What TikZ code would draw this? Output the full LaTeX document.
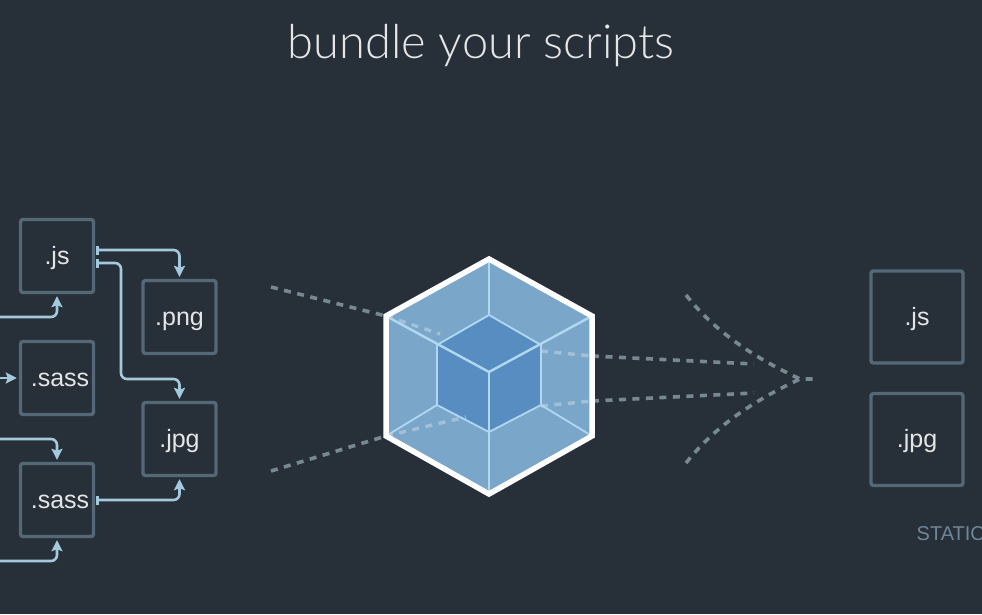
\documentclass[tikz,border=0pt]{standalone}
\usepackage{fontspec}
\setmainfont{Liberation Sans}
\newfontfamily\titlefont{Lato Light}
\usepackage{xcolor}
\definecolor{slidebg}{RGB}{39,48,57}
\definecolor{boxline}{RGB}{84,104,120}
\definecolor{linkblue}{RGB}{165,201,220}
\definecolor{dashgrey}{RGB}{120,136,146}
\definecolor{hexouter}{RGB}{122,167,201}
\definecolor{hexinner}{RGB}{88,141,193}
\definecolor{hexedge}{RGB}{176,216,243}
\definecolor{statictext}{RGB}{112,134,152}
\usetikzlibrary{arrows.meta}
\tikzset{
    common/.style={draw=boxline, rectangle, rounded corners=2.5pt, text=white!90!black, font=\fontsize{25}{25}\selectfont, text height=16.5pt, text depth=0.5pt},
    filebox/.style={common, line width=3.4pt, minimum size=73pt},
    outbox/.style={common, line width=3.4pt, minimum size=92pt},
    link/.style={draw=linkblue, line width=2.6pt, rounded corners=6pt, -{Stealth[length=11pt,width=11pt,inset=2pt]}},
    linkout/.style={link, {Bar[width=9pt,length=3pt]}-{Stealth[length=11pt,width=11pt,inset=2pt]}},
    flow/.style={draw=dashgrey, line width=3.6pt, dash pattern=on 7pt off 6.5pt},
    flowin/.style={draw=white, opacity=0.3, line width=3.4pt, dash pattern=on 7pt off 6.5pt},
    spoke/.style={draw=hexedge, line width=2.4pt}
}
\begin{document}
\begin{tikzpicture}[x=1pt,y=-1pt]
  \clip (0,0) rectangle (982,614);
  \fill[slidebg] (0,0) rectangle (982,614);

  \node[font=\titlefont\fontsize{47}{47}\selectfont, text=white!90!black] (title) at (481,46) {bundle your scripts};

  % files on the left
  \node[filebox] (js) at (57,256) {.js};
  \node[filebox] (png) at (179.5,317) {.png};
  \node[filebox] (sass-a) at (57,378) {\hspace*{6pt}.sass};
  \node[filebox] (jpg) at (179.5,439) {.jpg};
  \node[filebox] (sass-b) at (57,500) {\hspace*{6pt}.sass};

  \coordinate (in-js) at (-5,317);
  \coordinate (in-sass-a) at (-5,378);
  \coordinate (in-sass-b) at (-5,439);
  \coordinate (in-sass-c) at (-5,561);

  \draw[link] (in-js) -| ([yshift=-2pt]js.south);
  \draw[link] (in-sass-a) -- ([xshift=-2pt]sass-a.west);
  \draw[link] (in-sass-b) -| ([yshift=2pt]sass-b.north);
  \draw[link] (in-sass-c) -| ([yshift=-2pt]sass-b.south);
  \draw[linkout] ([xshift=1pt,yshift=6pt]js.east) -| ([yshift=2pt]png.north);
  \draw[linkout] ([xshift=1pt,yshift=-7pt]js.east) -| (121,379) -| ([yshift=2pt]jpg.north);
  \draw[linkout] ([xshift=1pt]sass-b.east) -| ([yshift=-2pt]jpg.south);

  % hexagon corners
  \coordinate (top) at (489,259);
  \coordinate (ur) at (592,316);
  \coordinate (lr) at (592,436);
  \coordinate (bot) at (489,494);
  \coordinate (ll) at (386,436);
  \coordinate (ul) at (386,316);
  \coordinate (c-top) at (489,315);
  \coordinate (c-ur) at (541,345);
  \coordinate (c-lr) at (541,405);
  \coordinate (c-bot) at (489,432);
  \coordinate (c-ll) at (437,405);
  \coordinate (c-ul) at (437,345);
  \coordinate (c-mid) at (489,372);
  \coordinate (tip) at (800,379);
  \coordinate (tip-end) at (816,379);

  % dashes going into and out of the hexagon
  \coordinate (up-start) at (271,287);
  \coordinate (low-start) at (271,471);
  \coordinate (curve-up) at (686,295);
  \coordinate (curve-low) at (686,463);
  \coordinate (flat-up) at (754,364);
  \coordinate (flat-low) at (754,393);
  \draw[flow] (up-start) -- (ul);
  \draw[flow] (low-start) -- (ll);
  \draw[flow] (592,356) -- (flat-up);
  \draw[flow] (592,401) -- (flat-low);
  \draw[flow] (curve-up) .. controls (715,332) and (755,358) .. (tip) -- (tip-end);
  \draw[flow] (curve-low) .. controls (715,426) and (755,400) .. (tip);

  \fill[hexouter] (top) -- (ur) -- (lr) -- (bot) -- (ll) -- (ul) -- cycle;
  \fill[hexinner] (c-top) -- (c-ur) -- (c-lr) -- (c-bot) -- (c-ll) -- (c-ul) -- cycle;

  \draw[flowin] (ul) -- (440,334);
  \draw[flowin] (ll) -- (466,417);
  \draw[flowin] (541,351) -- (592,356);
  \draw[flowin] (541,406) -- (592,401);

  \draw[spoke, line width=1.8pt] (c-top) -- (c-ur) -- (c-lr) -- (c-bot) -- (c-ll) -- (c-ul) -- cycle;
  \draw[spoke] (ul) -- (c-mid) -- (ur);
  \draw[spoke] (c-mid) -- (c-bot) -- (bot);
  \draw[spoke] (top) -- (c-top);
  \draw[spoke, line width=1.8pt] (ll) -- (c-ll);
  \draw[spoke, line width=1.8pt] (lr) -- (c-lr);
  \draw[draw=white, line width=5.5pt, line join=miter] (top) -- (ur) -- (lr) -- (bot) -- (ll) -- (ul) -- cycle;

  % bundled files on the right
  \node[outbox] (js-out) at (917,317) {.js};
  \node[outbox] (jpg-out) at (917,439.5) {.jpg};
  \node[anchor=west, inner sep=0pt, text=statictext, font=\fontsize{20}{20}\selectfont] (static) at (916.5,534) {STATIC};
\end{tikzpicture}
\end{document}
